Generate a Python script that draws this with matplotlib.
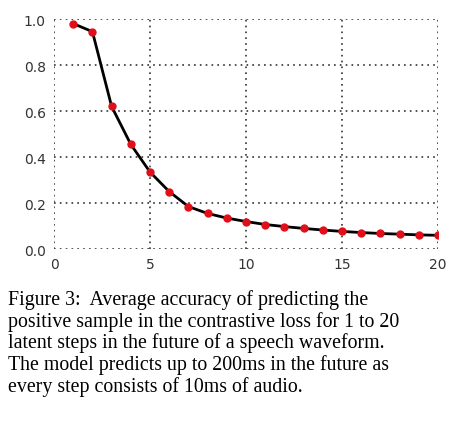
import matplotlib
matplotlib.use("Agg")
import matplotlib.pyplot as plt

steps = list(range(1, 21))
accuracy = [0.98, 0.945, 0.62, 0.455, 0.335, 0.25, 0.185, 0.155, 0.135, 0.12,
            0.107, 0.098, 0.09, 0.083, 0.077, 0.072, 0.068, 0.065, 0.062, 0.06]
caption = ["Figure 3:  Average accuracy of predicting the",
           "positive sample in the contrastive loss for 1 to 20",
           "latent steps in the future of a speech waveform.",
           "The model predicts up to 200ms in the future as",
           "every step consists of 10ms of audio."]

fig = plt.figure(figsize=(4.74, 4.35), dpi=100)
ax = fig.add_axes([0.114, 0.425, 0.81, 0.529])
ax.plot(steps, accuracy, color="black", lw=2, zorder=2)
ax.plot(steps, accuracy, "o", color="#e0101a", ms=5, zorder=3)
ax.set_xlim(0, 20)
ax.set_ylim(0, 1.0)
ax.set_xticks([0, 5, 10, 15, 20])
ax.set_yticks([0, 0.2, 0.4, 0.6, 0.8, 1.0])
ax.grid(True, linestyle=(0, (1, 2.5)), color="#333333", lw=1.2)
for s in ax.spines.values():
    s.set_visible(False)
ax.tick_params(length=0, labelsize=10, colors="#333333", pad=6)

for i, line in enumerate(caption):
    fig.text(0.017, 1 - (300 + i * 21.7) / 435, line, family="Liberation Serif",
             fontsize=14.3, va="center", ha="left")
fig.savefig("out.png", dpi=100)
